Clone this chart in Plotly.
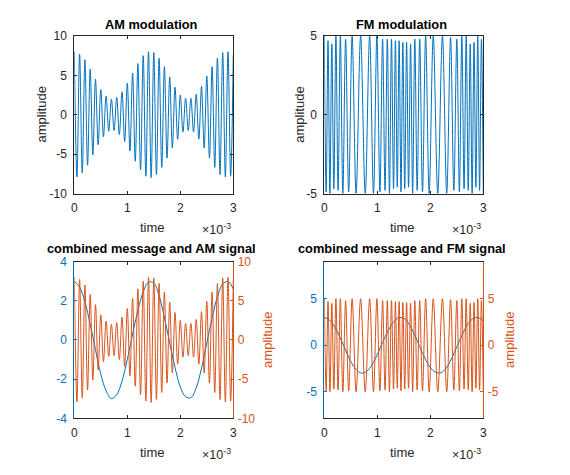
import plotly.graph_objects as go

# ---------------- data (time axis in units of 1e-3 s) ----------------
# AM modulated signal: extrema
am_time = [0.00, 0.05, 0.10, 0.15, 0.20, 0.25, 0.30, 0.35, 0.40, 0.45,
           0.50, 0.55, 0.60, 0.65, 0.70, 0.75, 0.80, 0.85, 0.90, 0.95,
           1.00, 1.05, 1.10, 1.15, 1.20, 1.25, 1.30, 1.35, 1.40, 1.45,
           1.50, 1.55, 1.60, 1.65, 1.70, 1.75, 1.80, 1.85, 1.90, 1.95,
           2.00, 2.05, 2.10, 2.15, 2.20, 2.25, 2.30, 2.35, 2.40, 2.45,
           2.50, 2.55, 2.60, 2.65, 2.70, 2.75, 2.80, 2.85, 2.90, 2.95,
           3.00]
am_amplitude = [8.0, -7.9, 7.7, -7.4, 7.0, -6.4, 5.8, -5.1, 4.5, -3.8,
                3.2, -2.8, 2.4, -2.1, 2.0, -2.0, 2.2, -2.5, 2.9, -3.4,
                4.0, -4.6, 5.3, -5.9, 6.5, -7.0, 7.5, -7.8, 8.0, -8.0,
                7.9, -7.6, 7.2, -6.7, 6.1, -5.5, 4.8, -4.2, 3.5, -3.1,
                2.5, -2.2, 2.1, -2.0, 2.1, -2.2, 2.6, -3.1, 3.6, -4.2,
                4.9, -5.5, 6.1, -6.7, 7.2, -7.6, 7.9, -7.9, 8.0, -7.8,
                7.6]

# FM modulated signal: extrema
fm_time = [0.000, 0.035, 0.070, 0.106, 0.142, 0.180, 0.219, 0.260, 0.303, 0.350,
           0.402, 0.460, 0.525, 0.600, 0.685, 0.772, 0.855, 0.928, 0.992, 1.049,
           1.100, 1.146, 1.189, 1.229, 1.268, 1.306, 1.342, 1.377, 1.412, 1.447,
           1.482, 1.517, 1.553, 1.590, 1.628, 1.667, 1.708, 1.752, 1.800, 1.853,
           1.912, 1.979, 2.056, 2.141, 2.229, 2.310, 2.382, 2.444, 2.500, 2.549,
           2.595, 2.637, 2.677, 2.716, 2.753, 2.789, 2.825, 2.860, 2.895, 2.930,
           2.965, 3.000]
fm_amplitude = [5.0, -4.9, 4.7, -5.0, 4.5, -4.7, 5.0, -4.8, 5.0, -5.0,
                4.8, -4.9, 5.0, -5.0, 5.0, -5.0, 5.0, -5.0, 5.0, -4.9,
                4.8, -4.8, 4.8, -5.0, 4.8, -4.7, 4.7, -4.6, 4.7, -4.9,
                4.6, -4.7, 4.6, -4.6, 4.5, -5.0, 4.8, -4.8, 4.8, -4.9,
                5.0, -5.0, 5.0, -5.0, 5.0, -5.0, 4.9, -4.8, 4.8, -4.9,
                5.0, -4.7, 5.0, -4.8, 4.5, -5.0, 4.6, -4.6, 5.0, -4.8,
                4.8, -5.0]

# message signal
msg_time = [0.0, 0.1, 0.2, 0.3, 0.4, 0.5, 0.6, 0.7, 0.8, 0.9,
            1.0, 1.1, 1.2, 1.3, 1.4, 1.5, 1.6, 1.7, 1.8, 1.9,
            2.0, 2.1, 2.2, 2.3, 2.4, 2.5, 2.6, 2.7, 2.8, 2.9, 3.0]
msg_amplitude = [3.0, 2.7, 1.95, 0.8, -0.5, -1.75, -2.6, -3.0, -2.8, -2.1,
                 -1.0, 0.3, 1.5, 2.45, 2.95, 2.9, 2.25, 1.15, -0.15, -1.4,
                 -2.4, -2.9, -2.95, -2.45, -1.45, -0.15, 1.1, 2.2, 2.85, 2.98, 2.6]

# tick labels
x_tick_vals = [0, 1, 2, 3]
x_tick_text = ["0", "1", "2", "3"]
am_tick_vals = [-10, -5, 0, 5, 10]
am_tick_text = ["-10", "-5", "0", "5", "10"]
fm_tick_vals = [-5, 0, 5]
fm_tick_text = ["-5", "0", "5"]
msg_tick_vals = [-4, -2, 0, 2, 4]
msg_tick_text = ["-4", "-2", "0", "2", "4"]

titles = ["AM modulation", "FM modulation",
          "combined message and AM signal", "combined message and FM signal"]

# ---------------- styling ----------------
W, H = 570, 475
BLUE = "#0072BD"
ORANGE = "#D95319"
AX = "#262626"
FONT = "Liberation Sans, Arial, Helvetica, sans-serif"
TICK_SIZE = 12
LABEL_SIZE = 13
TITLE_SIZE = 12.8


def px(x):
    return x / W


def py(y):
    return 1 - y / H


col_px = [(74.3, 233.3), (324.3, 483.3)]
row_px = [(36.0, 193.5), (261.5, 418.3)]
xdom = [[px(a), px(b)] for a, b in col_px]
ydom = [[py(b), py(a)] for a, b in row_px]

fig = go.Figure()
line_kw = dict(width=1, shape="spline", smoothing=1.0)

fig.add_trace(go.Scatter(x=am_time, y=am_amplitude, mode="lines",
                         line=dict(color=BLUE, **line_kw), xaxis="x", yaxis="y"))
fig.add_trace(go.Scatter(x=fm_time, y=fm_amplitude, mode="lines",
                         line=dict(color=BLUE, **line_kw), xaxis="x2", yaxis="y2"))
fig.add_trace(go.Scatter(x=msg_time, y=msg_amplitude, mode="lines",
                         line=dict(color=BLUE, **line_kw), xaxis="x3", yaxis="y3"))
fig.add_trace(go.Scatter(x=am_time, y=am_amplitude, mode="lines",
                         line=dict(color=ORANGE, **line_kw), xaxis="x3", yaxis="y5"))
fig.add_trace(go.Scatter(x=msg_time, y=msg_amplitude, mode="lines",
                         line=dict(color=BLUE, **line_kw), xaxis="x4", yaxis="y4"))
fig.add_trace(go.Scatter(x=fm_time, y=fm_amplitude, mode="lines",
                         line=dict(color=ORANGE, **line_kw), xaxis="x4", yaxis="y6"))


def xaxis(dom, anchor):
    return dict(domain=dom, anchor=anchor, range=[0, 3], tickvals=x_tick_vals,
                ticktext=x_tick_text, showline=True, linecolor=AX, linewidth=1,
                mirror="ticks", ticks="inside", ticklen=3, tickcolor=AX,
                ticklabelstandoff=3,
                tickfont=dict(size=TICK_SIZE, color=AX, family=FONT),
                showgrid=False, zeroline=False, fixedrange=True, automargin=False)


def yaxis(dom, anchor, rng, vals, text, color, side="left", mirror="ticks",
          overlaying=None, standoff=4):
    d = dict(domain=dom, anchor=anchor, range=rng, tickvals=vals, ticktext=text,
             showline=True, linecolor=color, linewidth=1, mirror=mirror,
             ticks="inside", ticklen=3, tickcolor=color, side=side,
             ticklabelstandoff=standoff,
             tickfont=dict(size=TICK_SIZE, color=color, family=FONT),
             showgrid=False, zeroline=False, fixedrange=True, automargin=False)
    if overlaying:
        d["overlaying"] = overlaying
        d.pop("domain")
    return d


bottom_fm_range = [-7.85, 9.0]

fig.update_layout(
    width=W, height=H,
    margin=dict(l=0, r=0, t=0, b=0, pad=0, autoexpand=False),
    paper_bgcolor="white", plot_bgcolor="white", showlegend=False,
    font=dict(family=FONT, color=AX),
    xaxis=xaxis(xdom[0], "y"),
    xaxis2=xaxis(xdom[1], "y2"),
    xaxis3=xaxis(xdom[0], "y3"),
    xaxis4=xaxis(xdom[1], "y4"),
    yaxis=yaxis(ydom[0], "x", [-10, 10], am_tick_vals, am_tick_text, AX),
    yaxis2=yaxis(ydom[0], "x2", [-5, 5], fm_tick_vals, fm_tick_text, AX),
    yaxis3=yaxis(ydom[1], "x3", [-4, 4], msg_tick_vals, msg_tick_text, BLUE, mirror=False),
    yaxis4=yaxis(ydom[1], "x4", bottom_fm_range, fm_tick_vals, fm_tick_text, BLUE, mirror=False),
    yaxis5=yaxis(ydom[1], "x3", [-10, 10], am_tick_vals, am_tick_text, ORANGE,
                 side="right", mirror=False, overlaying="y3", standoff=1),
    yaxis6=yaxis(ydom[1], "x4", bottom_fm_range, fm_tick_vals, fm_tick_text, ORANGE,
                 side="right", mirror=False, overlaying="y4", standoff=1),
)

ann = []
title_y = [24.5, 248.5]
time_y = [227.0, 452.0]
exp_y = [229.0, 454.0]
for r in range(2):
    for c in range(2):
        cx = (col_px[c][0] + col_px[c][1]) / 2
        ann.append(dict(text="<b>%s</b>" % titles[2 * r + c], x=px(cx - 2), y=py(title_y[r]),
                        xref="paper", yref="paper", xanchor="center", yanchor="middle",
                        borderpad=0, showarrow=False,
                        font=dict(size=TITLE_SIZE, color="black", family=FONT)))
        ann.append(dict(text="time", x=px(cx - 1), y=py(time_y[r]),
                        xref="paper", yref="paper", xanchor="center", yanchor="middle",
                        borderpad=0, showarrow=False,
                        font=dict(size=LABEL_SIZE, color=AX, family=FONT)))
        ann.append(dict(text="\u00d710<sup>-3</sup>", x=px(col_px[c][1] - 1.5), y=py(exp_y[r]),
                        xref="paper", yref="paper", xanchor="right", yanchor="middle",
                        borderpad=0, showarrow=False,
                        font=dict(size=12.5, color=AX, family=FONT)))

top_mid = (row_px[0][0] + row_px[0][1]) / 2
bot_mid = (row_px[1][0] + row_px[1][1]) / 2
for xpos, ypos, col in [(41.7, top_mid, AX), (300.0, top_mid, AX),
                        (268.0, bot_mid, ORANGE), (510.0, bot_mid, ORANGE)]:
    ann.append(dict(text="amplitude", x=px(xpos), y=py(ypos), xref="paper", yref="paper",
                    xanchor="center", yanchor="middle", textangle=-90, showarrow=False,
                    borderpad=0, font=dict(size=LABEL_SIZE, color=col, family=FONT)))

fig.update_layout(annotations=ann)

fig.write_html("out.html", config={"displayModeBar": False, "staticPlot": True},
               post_script="document.body.style.margin='0px';document.body.style.overflow='hidden';")
